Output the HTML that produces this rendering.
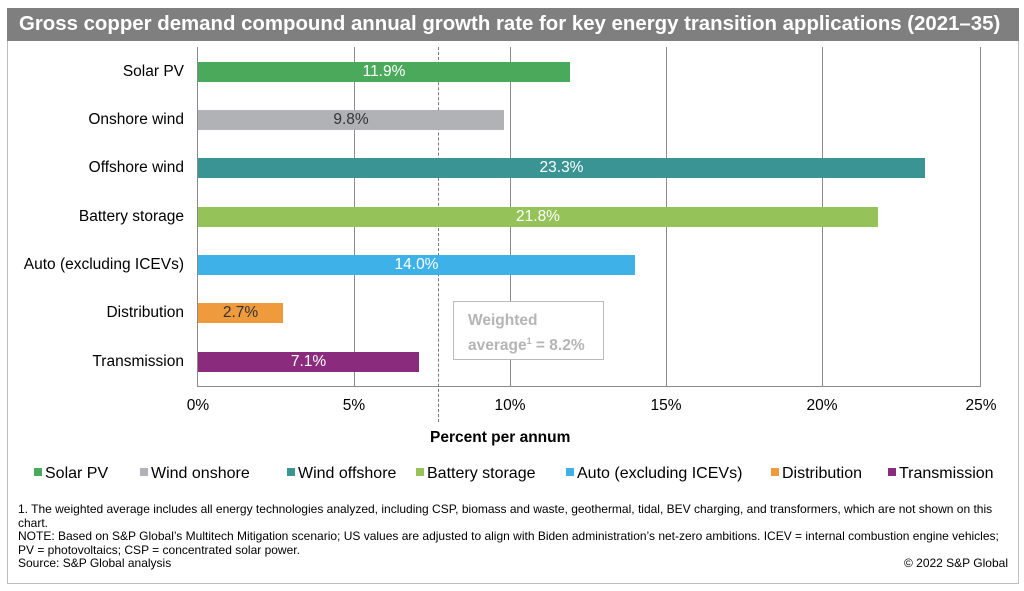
<!DOCTYPE html>
<html><head><style>
body{margin:0;background:#fff;font-family:"Liberation Sans",Arial,sans-serif;}
.wrap{position:absolute;left:7px;top:8px;width:1010px;height:574px;border:1px solid #bdbdbd;}
.title{position:absolute;left:7px;top:8px;width:1012px;height:33px;background:#7f7f7f;color:#fff;font-weight:bold;font-size:20.4px;line-height:33px;text-indent:12px;white-space:nowrap;}
.lab{position:absolute;right:840px;font-size:15.5px;color:#000;text-align:right;white-space:nowrap;}
.bar{position:absolute;left:198px;height:20px;color:#fff;font-size:15.5px;line-height:20px;text-align:center;}
.tick{position:absolute;top:397px;font-size:15.5px;width:60px;text-align:center;}
.grid{position:absolute;top:47px;height:340px;width:1px;background:#8a8a8a;}
.leg{position:absolute;top:465px;font-size:16px;white-space:nowrap;}
.leg i{display:inline-block;width:8px;height:8px;margin-right:3px;vertical-align:2px;}
.fn{position:absolute;left:18px;font-size:12px;color:#000;white-space:nowrap;line-height:13.5px;}
</style></head><body>
<div class="wrap"></div>
<div class="title">Gross copper demand compound annual growth rate for key energy transition applications (2021–35)</div>
<div class="grid" style="left:354px"></div>
<div class="grid" style="left:510px"></div>
<div class="grid" style="left:666px"></div>
<div class="grid" style="left:822px"></div>
<div class="grid" style="left:980px"></div>
<div style="position:absolute;left:197px;top:47px;width:1px;height:340px;background:#8a8a8a"></div>
<div style="position:absolute;left:197px;top:386px;width:784px;height:1px;background:#8a8a8a"></div>
<div style="position:absolute;left:438px;top:47px;height:375px;border-left:1px dashed #777"></div>
<div class="lab" style="top:63px">Solar PV</div>
<div class="lab" style="top:111px">Onshore wind</div>
<div class="lab" style="top:159px">Offshore wind</div>
<div class="lab" style="top:208px">Battery storage</div>
<div class="lab" style="top:256px">Auto (excluding ICEVs)</div>
<div class="lab" style="top:304px">Distribution</div>
<div class="lab" style="top:353px">Transmission</div>
<div class="bar" style="top:62px;width:372px;background:#4aa95a">11.9%</div>
<div class="bar" style="top:110px;width:306px;background:#b1b2b5;color:#333">9.8%</div>
<div class="bar" style="top:158px;width:727px;background:#3a9494">23.3%</div>
<div class="bar" style="top:207px;width:680px;background:#96c25a">21.8%</div>
<div class="bar" style="top:255px;width:437px;background:#3eb2e8">14.0%</div>
<div class="bar" style="top:303px;width:85px;background:#ef9a3d;color:#333">2.7%</div>
<div class="bar" style="top:352px;width:221px;background:#8a2b7e">7.1%</div>
<div style="position:absolute;left:453px;top:301px;width:151px;height:59px;border:1px solid #bbb;background:#fff;color:#b5b5b5;font-weight:bold;font-size:15.5px;line-height:20px;padding:9px 0 0 14px;box-sizing:border-box">Weighted<br>average<sup style="font-size:9px">1</sup> = 8.2%</div>
<div class="tick" style="left:168px">0%</div>
<div class="tick" style="left:324px">5%</div>
<div class="tick" style="left:480px">10%</div>
<div class="tick" style="left:636px">15%</div>
<div class="tick" style="left:792px">20%</div>
<div class="tick" style="left:951px">25%</div>
<div style="position:absolute;left:430px;top:429px;font-weight:bold;font-size:15.5px">Percent per annum</div>
<div class="leg" style="left:34px"><i style="background:#4aa95a"></i>Solar PV</div>
<div class="leg" style="left:140px"><i style="background:#b1b2b5"></i>Wind onshore</div>
<div class="leg" style="left:287px"><i style="background:#3a9494"></i>Wind offshore</div>
<div class="leg" style="left:416px"><i style="background:#96c25a"></i>Battery storage</div>
<div class="leg" style="left:566px"><i style="background:#3eb2e8"></i>Auto (excluding ICEVs)</div>
<div class="leg" style="left:771px"><i style="background:#ef9a3d"></i>Distribution</div>
<div class="leg" style="left:888px"><i style="background:#8a2b7e"></i>Transmission</div>
<div class="fn" style="top:503px">1. The weighted average includes all energy technologies analyzed, including CSP, biomass and waste, geothermal, tidal, BEV charging, and transformers, which are not shown on this<br>chart.<br>NOTE: Based on S&amp;P Global’s Multitech Mitigation scenario; US values are adjusted to align with Biden administration’s net-zero ambitions. ICEV = internal combustion engine vehicles;<br>PV = photovoltaics; CSP = concentrated solar power.<br>Source: S&amp;P Global analysis</div>
<div class="fn" style="top:557px;left:auto;right:16px">© 2022 S&amp;P Global</div>
</body></html>
